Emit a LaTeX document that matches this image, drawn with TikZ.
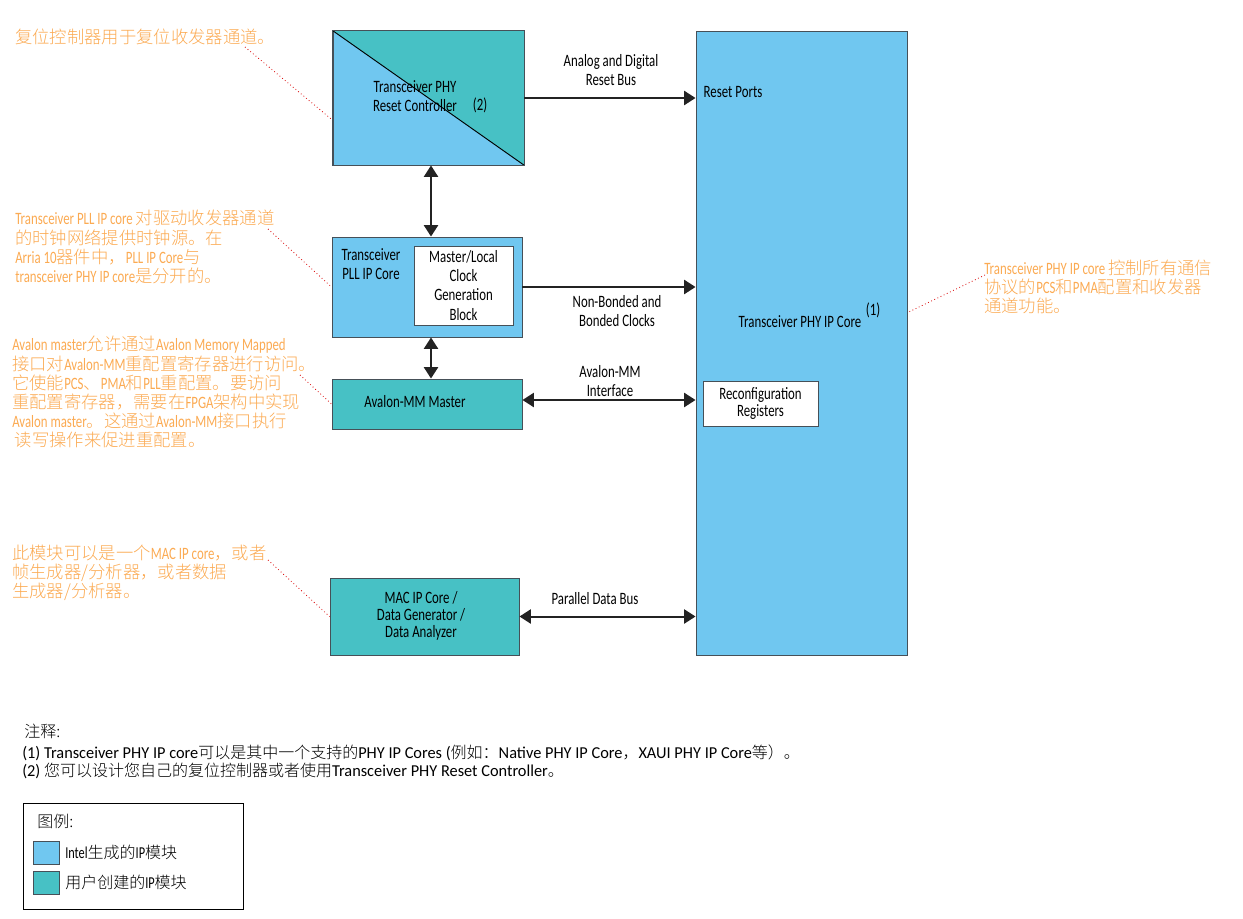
\documentclass[tikz,border=0pt]{standalone}
\usepackage{fontspec}
\setmainfont{Carlito}[FakeStretch=0.74]
\newfontfamily\latinwide{Carlito}[FakeStretch=0.98]
\newfontfamily\cjkfull{Noto Sans CJK SC Light}
\newcommand{\zh}[1]{{\cjkfull\fontsize{13}{14}\selectfont #1}}
\newcommand{\zn}[1]{{\cjkfull\fontsize{12}{14}\selectfont #1}}
\definecolor{ipblue}{RGB}{112, 199, 240}
\definecolor{ipteal}{RGB}{71, 193, 197}
\definecolor{noteorange}{RGB}{251, 170, 82}
\definecolor{boxline}{RGB}{70, 80, 88}
\definecolor{wirecol}{RGB}{35, 35, 35}
\usetikzlibrary{arrows.meta}

\tikzset{
  block/.style={draw=boxline, line width=0.7pt, inner sep=0pt},
  label/.style={font=\fontsize{13}{14.3}\selectfont, align=center, inner sep=0pt, text=black},
  note/.style={font=\fontsize{13}{14.3}\selectfont, align=left, anchor=west, inner sep=0pt, text=noteorange},
  foot/.style={font=\latinwide\fontsize{12.5}{14}\selectfont, anchor=west, inner sep=0pt, text=black},
  wire/.style={draw=wirecol, line width=1.5pt, -{Triangle[length=8.5pt,width=10.5pt]}},
  biwire/.style={draw=wirecol, line width=1.5pt, {Triangle[length=8.5pt,width=10.5pt]}-{Triangle[length=8.5pt,width=10.5pt]}},
  leader/.style={draw=red!85!black, dotted, line width=0.6pt}
}

\begin{document}
\begin{tikzpicture}[x=0.75pt, y=-0.75pt]
  \useasboundingbox (0,0) rectangle (1243,918);

  % blocks
  \node[block, fill=ipblue, minimum width=143.25pt, minimum height=100.5pt] (reset) at (428.5,98) {};
  \fill[ipteal] (reset.north west) -- (reset.north east) -- (reset.south east) -- cycle;
  \draw[draw=black, line width=0.7pt] (reset.north west) -- (reset.south east);
  \draw[block] (reset.north west) rectangle (reset.south east);
  \node[block, fill=ipblue, minimum width=142.5pt, minimum height=75pt] (pll) at (427,287) {};
  \node[block, fill=white, minimum width=74.25pt, minimum height=59.25pt, label, draw=boxline] (clock) at (463.5,285.5) {Master/Local\\Clock\\Generation\\Block};
  \node[block, fill=ipteal, minimum width=142.5pt, minimum height=37.5pt] (avalon) at (427,404) {};
  \node[block, fill=ipteal, minimum width=141.75pt, minimum height=57.75pt] (mac) at (424.5,616.5) {};
  \node[block, fill=ipblue, minimum width=158.25pt, minimum height=468pt] (phy) at (801.5,343) {};
  \node[block, fill=white, minimum width=86.25pt, minimum height=33.75pt] (reconfig) at (760.5,403.5) {};

  % block texts
  \node[label] (resetname) at (415,96) {Transceiver PHY\\Reset Controller};
  \node[label] (resetref) at (480,105) {(2)};
  \node[label] (pllname) at (371,264) {Transceiver\\PLL IP Core};
  \node[label] (avalonname) at (415,402) {Avalon-MM Master};
  \node[label, font=\fontsize{13}{12.6}\selectfont] (macname) at (421,616) {MAC IP Core /\\Data Generator /\\Data Analyzer};
  \node[label] (phyname) at (800,322) {Transceiver PHY IP Core};
  \node[label] (phyref) at (873,310) {(1)};
  \node[label] (resetports) at (733,92) {Reset Ports};
  \node[label, font=\fontsize{13}{12.8}\selectfont] (reconfigname) at (reconfig) {Reconfiguration\\Registers};

  % connectors
  \draw[wire] (reset.east) -- (reset.east -| phy.west);
  \draw[wire] (pll.east) -- (pll.east -| phy.west);
  \draw[biwire] ([yshift=3pt]avalon.east) -- ([yshift=3pt]avalon.east -| phy.west);
  \draw[biwire] (mac.east) -- (mac.east -| phy.west);
  \draw[biwire] ([xshift=3pt]pll.north) -- ([xshift=3pt]pll.north |- reset.south);
  \draw[biwire] ([xshift=3pt]avalon.north) -- ([xshift=3pt]pll.south);

  \node[label] (busname) at (611,70) {Analog and Digital\\Reset Bus};
  \node[label] (clockname) at (617,311) {Non-Bonded and\\Bonded Clocks};
  \node[label] (mmname) at (610,381) {Avalon-MM\\Interface};
  \node[label] (dataname) at (595,599) {Parallel Data Bus};

  % orange notes
  \node[note] (resetnote) at (15,37) {\zh{复位控制器用于复位收发器通道。}};
  \node[note] (pllnote) at (15,247) {Transceiver PLL IP core \zh{对驱动收发器通道}\\\zh{的时钟网络提供时钟源。在}\\Arria 10\zh{器件中，}PLL IP Core\zh{与}\\transceiver PHY IP core\zh{是分开的。}};
  \node[note] (avalonnote) at (12,392) {Avalon master\zh{允许通过}Avalon Memory Mapped\\\zh{接口对}Avalon-MM\zh{重配置寄存器进行访问。}\\\zh{它使能}PCS\zh{、}PMA\zh{和}PLL\zh{重配置。要访问}\\\zh{重配置寄存器，需要在}FPGA\zh{架构中实现}\\Avalon master\zh{。这通过}Avalon-MM\zh{接口执行}\\\hspace{2pt}\zh{读写操作来促进重配置。}};
  \node[note] (macnote) at (12,573) {\zh{此模块可以是一个}MAC IP core\zh{，或者}\\\zh{帧生成器/分析器，或者数据}\\\zh{生成器/分析器。}};
  \node[note] (phynote) at (984,287) {Transceiver PHY IP core \zh{控制所有通信}\\\zh{协议的}PCS\zh{和}PMA\zh{配置和收发器}\\\zh{通道功能。}};

  \coordinate (resettip) at (245,47);
  \coordinate (plltip) at (268,229);
  \coordinate (avalontip) at (300,375);
  \coordinate (mactip) at (268,560);
  \coordinate (phytip) at (985,275);
  \draw[leader] (resettip) -- (reset.193);
  \draw[leader] (plltip) -- (pll.west);
  \draw[leader] (avalontip) -- (avalon.west);
  \draw[leader] (mactip) -- (mac.west);
  \draw[leader] (phytip) -- (phy.16);

  % footnotes
  \node[foot] (foothead) at (24,731) {\zn{注释:}};
  \node[foot] (footone) at (22,753) {(1) Transceiver PHY IP core\zn{可以是其中一个支持的}PHY IP Cores (\zn{例如：}Native PHY IP Core\zn{，}XAUI PHY IP Core\zn{等）。}};
  \node[foot] (foottwo) at (22,771) {(2) \zn{您可以设计您自己的复位控制器或者使用}Transceiver PHY Reset Controller\zn{。}};

  % legend
  \node[block, minimum width=165pt, minimum height=79.5pt, draw=black] (legend) at (133,856) {};
  \node[foot] (legendhead) at (37,821) {\zn{图例:}};
  \node[block, fill=ipblue, minimum width=19.5pt, minimum height=17.25pt] (swatchblue) at (46,852.5) {};
  \node[block, fill=ipteal, minimum width=19.5pt, minimum height=17.25pt] (swatchteal) at (46,882.5) {};
  \node[foot, anchor=west, font=\fontsize{12.5}{14}\selectfont] (legendblue) at (65,852) {Intel\zn{生成的}IP\zn{模块}};
  \node[foot, anchor=west, font=\fontsize{12.5}{14}\selectfont] (legendteal) at (65,882) {\zn{用户创建的}IP\zn{模块}};

\end{tikzpicture}
\end{document}
